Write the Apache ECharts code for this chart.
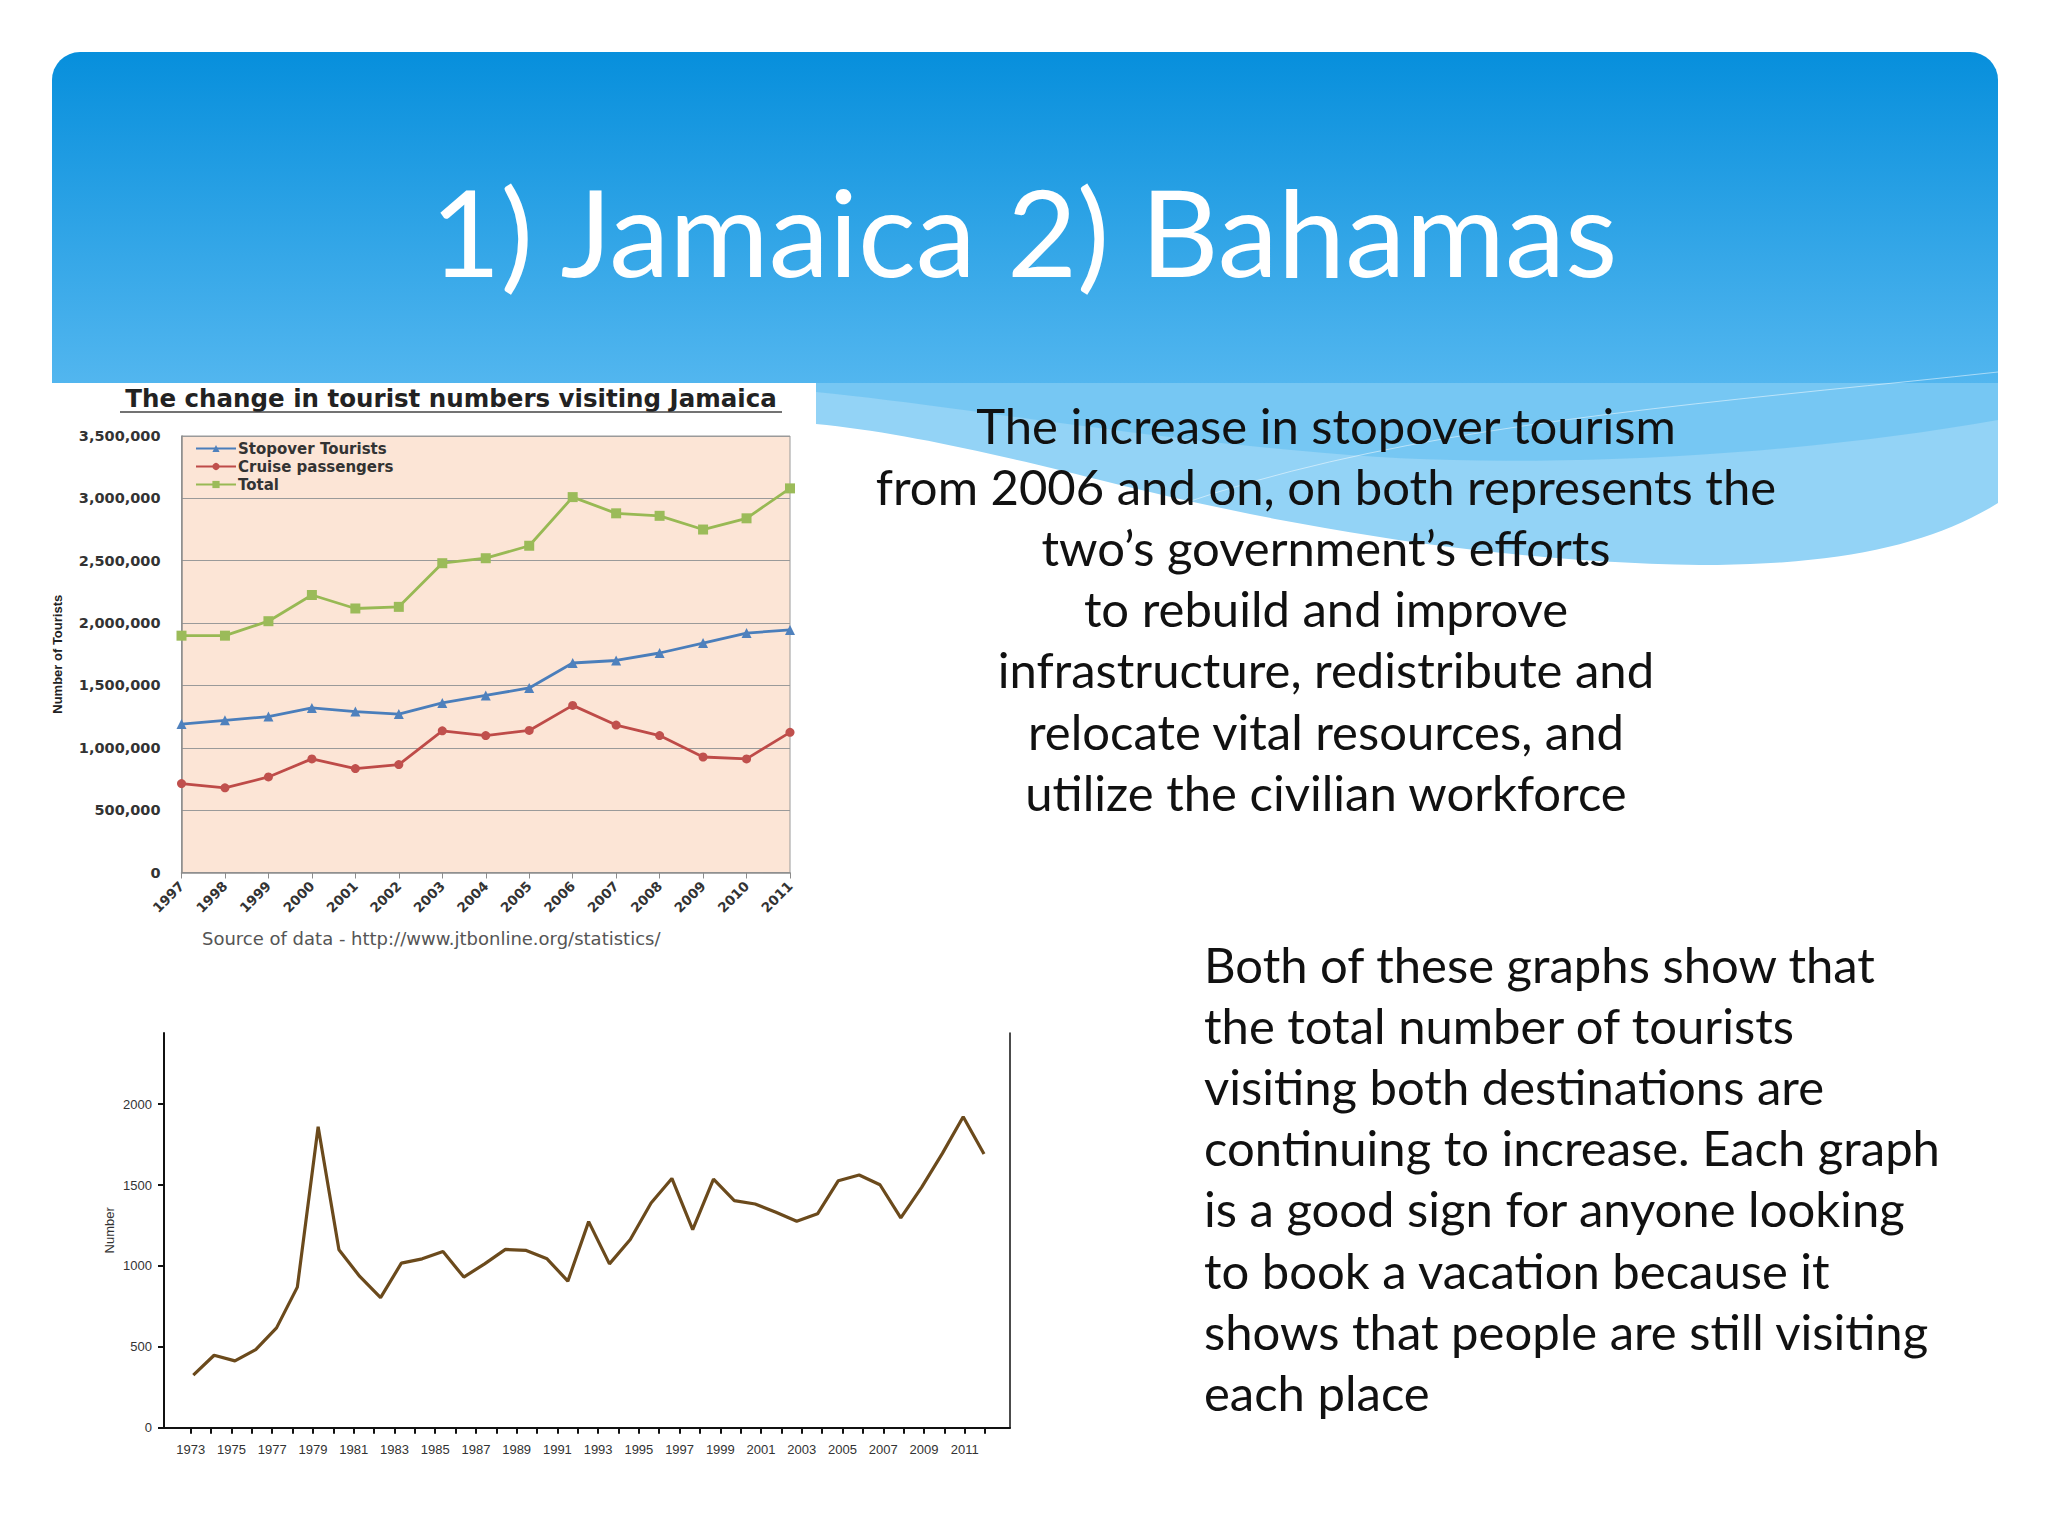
<!DOCTYPE html>
<html>
<head>
<meta charset="utf-8">
<title>1) Jamaica 2) Bahamas</title>
<script src="https://cdn.jsdelivr.net/npm/echarts@6.0.0/dist/echarts.min.js"></script>
<style>
  html, body { margin: 0; padding: 0; background: #fff; }
  #slide { width: 2048px; height: 1536px; }
</style>
</head>
<body>
<div id="slide"></div>
<script>
// chart 1: tourists visiting Jamaica
const jamYears = ['1997', '1998', '1999', '2000', '2001', '2002', '2003', '2004',
                  '2005', '2006', '2007', '2008', '2009', '2010', '2011'];
const stopover = [1190000, 1220000, 1250000, 1320000, 1290000, 1270000, 1360000, 1420000,
                  1480000, 1680000, 1700000, 1760000, 1840000, 1920000, 1945000];
const cruise = [713000, 679000, 766000, 911000, 833000, 865000, 1136000, 1098000,
                1139000, 1340000, 1182000, 1098000, 926000, 911000, 1124000];
const total = [1899000, 1899000, 2015000, 2225000, 2117000, 2130000, 2480000, 2520000,
               2620000, 3010000, 2880000, 2860000, 2750000, 2840000, 3080000];
const jamYTicks = [0, 500000, 1000000, 1500000, 2000000, 2500000, 3000000, 3500000];

// chart 2: Bahamas, 1973-2011
const bahYears = [1973, 1974, 1975, 1976, 1977, 1978, 1979, 1980, 1981, 1982,
                  1983, 1984, 1985, 1986, 1987, 1988, 1989, 1990, 1991, 1992,
                  1993, 1994, 1995, 1996, 1997, 1998, 1999, 2000, 2001, 2002,
                  2003, 2004, 2005, 2006, 2007, 2008, 2009, 2010, 2011];
const bahValues = [325, 448, 413, 483, 617, 869, 1860, 1100, 935, 804,
                   1017, 1044, 1089, 931, 1013, 1102, 1096, 1044, 906, 1274,
                   1013, 1163, 1389, 1541, 1225, 1537, 1404, 1383, 1332, 1276,
                   1322, 1527, 1562, 1502, 1297, 1486, 1696, 1922, 1692];
// the printed axis has a tick every year up to 2012, a label every other year
const bahTickYears = [1973, 1974, 1975, 1976, 1977, 1978, 1979, 1980, 1981, 1982,
                      1983, 1984, 1985, 1986, 1987, 1988, 1989, 1990, 1991, 1992,
                      1993, 1994, 1995, 1996, 1997, 1998, 1999, 2000, 2001, 2002,
                      2003, 2004, 2005, 2006, 2007, 2008, 2009, 2010, 2011, 2012];
const bahLabelYears = [1973, 1975, 1977, 1979, 1981, 1983, 1985, 1987, 1989, 1991,
                       1993, 1995, 1997, 1999, 2001, 2003, 2005, 2007, 2009, 2011];
const bahYTicks = [0, 500, 1000, 1500, 2000];

const titleText = '1) Jamaica 2) Bahamas';
const note1 = [
  'The increase in stopover tourism',
  'from 2006 and on, on both represents the',
  'two\u2019s government\u2019s efforts',
  'to rebuild and improve',
  'infrastructure, redistribute and',
  'relocate vital resources, and',
  'utilize the civilian workforce'
];
const note2 = [
  'Both of these graphs show that',
  'the total number of tourists',
  'visiting both destinations are',
  'continuing to increase. Each graph',
  'is a good sign for anyone looking',
  'to book a vacation because it',
  'shows that people are still visiting',
  'each place'
];

const slideFont = 'Lato, "Open Sans", sans-serif';
const excelFont = '"DejaVu Sans", Verdana, sans-serif';
const plainFont = '"Liberation Sans", Arial, sans-serif';

// sample a cubic curve into points, for the decorative waves
function curve(p0, p1, p2, p3) {
  const pts = [];
  for (let i = 0; i <= 24; i++) {
    const t = i / 24, u = 1 - t;
    pts.push([
      u * u * u * p0[0] + 3 * u * u * t * p1[0] + 3 * u * t * t * p2[0] + t * t * t * p3[0],
      u * u * u * p0[1] + 3 * u * u * t * p1[1] + 3 * u * t * t * p2[1] + t * t * t * p3[1]
    ]);
  }
  return pts;
}
const lightWave = [[816, 383], [1998, 383]]
  .concat(curve([1998, 503], [1930, 545], [1840, 565], [1700, 565]))
  .concat(curve([1700, 565], [1500, 562], [1300, 530], [1100, 480]))
  .concat(curve([1100, 480], [1000, 455], [900, 432], [816, 424]));
const midWave = [[816, 383], [1998, 383]]
  .concat(curve([1998, 420], [1800, 455], [1550, 470], [1350, 455]))
  .concat(curve([1350, 455], [1150, 440], [950, 405], [816, 392]));
const glint = curve([1050, 560], [1300, 430], [1650, 410], [1998, 372]);

const chart = echarts.init(document.getElementById('slide'), null, { renderer: 'svg' });

const option = {
  animation: false,
  backgroundColor: '#ffffff',
  graphic: [
    // header bar
    {
      type: 'rect', z: -20,
      shape: { x: 52, y: 52, width: 1946, height: 331, r: [28, 28, 0, 0] },
      style: {
        fill: new echarts.graphic.LinearGradient(0, 0, 0, 1, [
          { offset: 0, color: '#078fdc' },
          { offset: 1, color: '#52b6ef' }
        ])
      }
    },
    // waves under the header
    { type: 'polygon', z: -19, shape: { points: lightWave }, style: { fill: '#93d3f6' } },
    { type: 'polygon', z: -18, shape: { points: midWave }, style: { fill: '#6cc3f2', opacity: 0.75 } },
    { type: 'polyline', z: -17, shape: { points: glint }, style: { fill: null, stroke: '#ffffff', lineWidth: 1, opacity: 0.5 } },
    // slide title
    {
      type: 'text', x: 1024, y: 230,
      style: { text: titleText, fontSize: 121, fontFamily: slideFont, fill: '#ffffff', align: 'center', verticalAlign: 'middle' }
    },
    // notes
    {
      type: 'text', x: 1326, y: 394,
      style: { text: note1.join('\n'), fontSize: 49, lineHeight: 61.2, fontFamily: slideFont, fill: '#111111', align: 'center', verticalAlign: 'top' }
    },
    {
      type: 'text', x: 1204, y: 933,
      style: { text: note2.join('\n'), fontSize: 49, lineHeight: 61.2, fontFamily: slideFont, fill: '#111111', align: 'left', verticalAlign: 'top' }
    },
    // Jamaica chart heading + source line
    {
      type: 'text', x: 451, y: 398,
      style: { text: 'The change in tourist numbers visiting Jamaica', fontSize: 24.5, fontWeight: 'bold', fontFamily: excelFont, fill: '#222222', align: 'center', verticalAlign: 'middle' }
    },
    {
      type: 'line', shape: { x1: 120, y1: 412, x2: 782, y2: 412 },
      style: { stroke: '#444444', lineWidth: 1.5 }
    },
    {
      type: 'text', x: 202, y: 938,
      style: { text: 'Source of data - http://www.jtbonline.org/statistics/', fontSize: 18, fontFamily: excelFont, fill: '#555555', align: 'left', verticalAlign: 'middle' }
    }
  ],
  legend: {
    left: 195, top: 441, orient: 'vertical', padding: 0,
    itemGap: 3, itemWidth: 40, itemHeight: 9,
    textStyle: { fontFamily: excelFont, fontWeight: 'bold', fontSize: 15, color: '#333', padding: [0, 0, 0, -3] },
    data: ['Stopover Tourists', 'Cruise passengers', 'Total']
  },
  grid: [
    { left: 181.5, top: 436, width: 608.5, height: 436.5, show: true, backgroundColor: '#fce5d6', borderColor: '#9a9a9a', borderWidth: 1 },
    { left: 164, top: 1033, width: 846, height: 394.7 }
  ],
  xAxis: [
    {
      gridIndex: 0, type: 'category', data: jamYears, boundaryGap: false,
      axisLine: { lineStyle: { color: '#8c8c8c', width: 1.5 } },
      axisTick: { length: 6, lineStyle: { color: '#8c8c8c' } },
      axisLabel: { rotate: 45, margin: 11, fontFamily: excelFont, fontWeight: 'bold', fontSize: 13.5, color: '#333' }
    },
    {
      gridIndex: 1, type: 'value', min: 1971.689, max: 2013.22, position: 'bottom',
      axisLine: { onZero: false, lineStyle: { color: '#111', width: 2 } },
      axisTick: { customValues: bahTickYears, length: 6, lineStyle: { color: '#111', width: 2 } },
      axisLabel: { customValues: bahLabelYears, margin: 15, fontFamily: plainFont, fontSize: 13, color: '#333', formatter: v => String(v) },
      splitLine: { show: false }
    },
    {
      gridIndex: 1, type: 'value', min: 1971.592, max: 2012.249, show: false
    }
  ],
  yAxis: [
    {
      gridIndex: 0, type: 'value', min: 0, max: 3500000, interval: 500000,
      axisLine: { show: true, onZero: false, lineStyle: { color: '#8c8c8c', width: 1.5 } },
      axisTick: { show: false },
      axisLabel: { margin: 21, fontFamily: excelFont, fontWeight: 'bold', fontSize: 14.5, color: '#333', formatter: v => v.toLocaleString('en-US') },
      splitLine: { lineStyle: { color: '#9a9a9a', width: 1.2 } },
      name: 'Number of Tourists', nameLocation: 'middle', nameGap: 118, nameRotate: 90,
      nameTextStyle: { fontFamily: '"Liberation Sans Narrow", ' + plainFont, fontWeight: 'bold', fontSize: 13, color: '#222' }
    },
    {
      gridIndex: 1, type: 'value', min: 0, max: 2440,
      axisLine: { show: true, onZero: false, lineStyle: { color: '#111', width: 2 } },
      axisTick: { show: true, customValues: bahYTicks, length: 6, lineStyle: { color: '#111', width: 2 } },
      axisLabel: { customValues: bahYTicks, margin: 12, fontFamily: plainFont, fontSize: 13, color: '#333', formatter: v => String(v) },
      splitLine: { show: false },
      name: 'Number', nameLocation: 'middle', nameGap: 48, nameRotate: 90,
      nameTextStyle: { fontFamily: plainFont, fontSize: 13, color: '#333' }
    },
    {
      gridIndex: 1, type: 'value', position: 'right', min: 0, max: 2440,
      axisLine: { show: true, onZero: false, lineStyle: { color: '#111', width: 1.5 } },
      axisTick: { show: false }, axisLabel: { show: false }, splitLine: { show: false }
    }
  ],
  series: [
    {
      name: 'Stopover Tourists', type: 'line', xAxisIndex: 0, yAxisIndex: 0, data: stopover,
      symbol: 'triangle', symbolSize: 10,
      lineStyle: { color: '#4a7ebb', width: 2.8 }, itemStyle: { color: '#4f81bd' }
    },
    {
      name: 'Cruise passengers', type: 'line', xAxisIndex: 0, yAxisIndex: 0, data: cruise,
      symbol: 'circle', symbolSize: 9,
      lineStyle: { color: '#be4b48', width: 2.8 }, itemStyle: { color: '#c0504d' }
    },
    {
      name: 'Total', type: 'line', xAxisIndex: 0, yAxisIndex: 0, data: total,
      symbol: 'rect', symbolSize: 10,
      lineStyle: { color: '#98b954', width: 2.8 }, itemStyle: { color: '#9bbb59' }
    },
    {
      type: 'line', xAxisIndex: 2, yAxisIndex: 1,
      data: bahYears.map((y, i) => [y, bahValues[i]]),
      symbol: 'none', silent: true,
      lineStyle: { color: '#6b4a1c', width: 3.2 }
    }
  ]
};

chart.setOption(option);
</script>
</body>
</html>
